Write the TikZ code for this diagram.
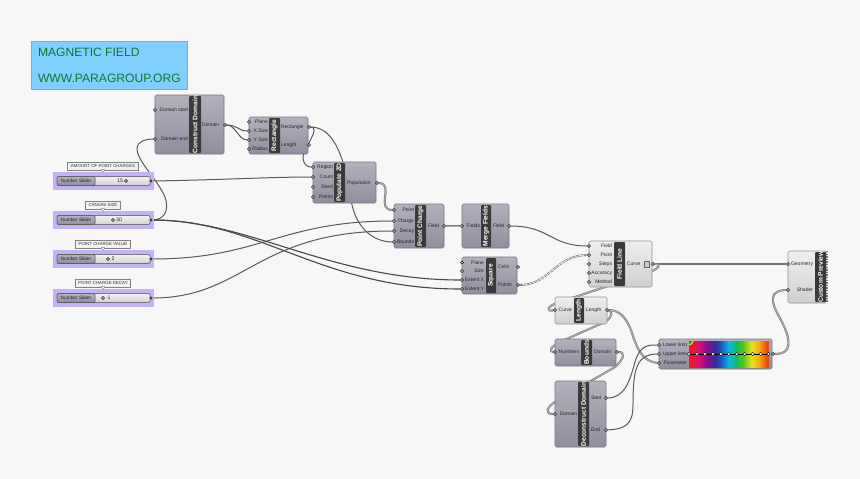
\documentclass[tikz,border=0pt]{standalone}
\usepackage{fontspec}
\setmainfont{Liberation Sans}
\usetikzlibrary{fit,backgrounds,shapes.geometric}
\definecolor{bgc}{HTML}{F7F7F7}
\definecolor{titlec}{HTML}{80CFFF}
\definecolor{titlet}{HTML}{0A7A2A}
\definecolor{groupc}{HTML}{C5B2F5}
\definecolor{edgec}{HTML}{77767F}
\definecolor{barc}{HTML}{3A3A3A}
\definecolor{wirec}{HTML}{5A5A5A}
\definecolor{pt}{HTML}{B2B1BD}
\definecolor{pb}{HTML}{908E9E}
\definecolor{lt}{HTML}{EFEFEF}
\definecolor{lb}{HTML}{D0D0D0}
\pgfdeclarehorizontalshading{rainbowbar}{100bp}{
 rgb(0bp)=(0.93,0.10,0.15); rgb(26.5bp)=(0.93,0.10,0.15);
 rgb(31bp)=(0.88,0.05,0.45); rgb(36bp)=(0.55,0.05,0.55);
 rgb(41bp)=(0.25,0.15,0.60); rgb(45bp)=(0.10,0.35,0.75);
 rgb(50bp)=(0.05,0.72,0.90); rgb(55bp)=(0.05,0.75,0.35);
 rgb(59bp)=(0.35,0.78,0.10); rgb(64bp)=(0.88,0.90,0.10);
 rgb(69bp)=(0.98,0.65,0.05); rgb(73.5bp)=(0.92,0.30,0.05); rgb(100bp)=(0.92,0.30,0.05)}
\tikzset{
 x=1pt,y=-1pt,
 every node/.style={inner sep=0pt,outer sep=0pt},
 purplebody/.style={draw=edgec,line width=.6pt,rounded corners=1.5pt,shade,top color=pt,bottom color=pb},
 lightbody/.style={draw=edgec!80,line width=.6pt,rounded corners=1.5pt,shade,top color=lt,bottom color=lb},
 barbox/.style={fill=barc,rounded corners=1pt},
 bartext/.style={rotate=90,text=white,font=\fontsize{6.6}{7}\selectfont\bfseries},
 inlbl/.style={anchor=east,text=black!85,font=\fontsize{5}{6}\selectfont},
 outlbl/.style={anchor=west,text=black!85,font=\fontsize{5}{6}\selectfont},
 portc/.style={circle,draw=black,fill=white,line width=.45pt,minimum size=3.1pt},
 wire/.style={draw=wirec,line width=1pt},
 darkwire/.style={draw=black!72,line width=1.1pt},
 listwire/.style={draw=black!55,line width=1.8pt},
 liwire/.style={draw=black!52,line width=.55pt,double=black!32,double distance=1pt},
 dashwire/.style={draw=black!62,line width=.6pt,double=white,double distance=.7pt,dash pattern=on 3pt off .8pt},
 groupbox/.style={fill=groupc},
 sliderbox/.style={draw=black!70,line width=.5pt,rounded corners=1pt,shade,top color=white!95!black,bottom color=black!18},
 sliderlbl/.style={draw=black!70,line width=.5pt,rounded corners=1pt,shade,top color=pt,bottom color=pb},
 sliderlt/.style={text=black!85,font=\fontsize{4.8}{6}\selectfont},
 captionbox/.style={draw=black!50,line width=.4pt,fill=white!95!black,text=black!80,font=\fontsize{4.4}{5}\selectfont},
 captip/.style={regular polygon,regular polygon sides=3,shape border rotate=180,draw=black!50,fill=white,line width=.3pt,minimum size=4pt},
 grip/.style={circle,draw=black,fill=white,line width=.35pt,minimum size=3.4pt},
 sliderknob/.style={diamond,draw=black,fill=white,line width=.4pt,minimum size=3pt},
 sliderval/.style={text=black!85,font=\fontsize{5.2}{6}\selectfont},
 titletext/.style={anchor=west,text=titlet,font=\fontsize{12.1}{14}\selectfont},
}
% id, x1,y1,x2,y2, barx1,barx2, title, body style
\newcommand\comp[9]{%
 \node[#9,fit={(#2,#3)(#4,#5)}] (#1) {};
 \node[barbox,fit={(#6,#3+1)(#7,#5-1)}] (#1bar) {};
 \node[bartext] (#1title) at (#1bar.center) {#8};
}
\newcommand\inp[5]{% id,x,y,labelx,text
 \node[portc] (#1) at (#2,#3) {};
 \node[inlbl] (#1lbl) at (#4,#3) {#5};
}
\newcommand\outp[5]{%
 \node[portc] (#1) at (#2,#3) {};
 \node[outlbl] (#1lbl) at (#4,#3) {#5};
}
% id,y,value text, knobx, valx, caption, capwidth
\newcommand\slider[7]{%
 \node[groupbox,fit={(53,#2-9)(154,#2+9)}] (#1group) {};
 \node[sliderbox,fit={(57,#2-4.3)(150,#2+4.3)}] (#1box) {};
 \node[sliderlbl,fit={(57,#2-4.3)(95,#2+4.3)}] (#1lab) {};
 \node[sliderlt] (#1labt) at (76,#2) {Number Slider};
 \node[sliderknob] (#1knob) at (#4,#2) {};
 \node[sliderval] (#1val) at (#5,#2) {#3};
 \node[portc,minimum size=2.6pt] (#1) at (151,#2) {};
 \node[captionbox,minimum width=#7pt,minimum height=7.5pt] (#1cap) at (103,#2-15) {#6};
 \node[captip] (#1tip) at (103,#2-10.4) {};
}
\begin{document}
\begin{tikzpicture}
\useasboundingbox (0,0) rectangle (860,479);
% ---- title
\node[fill=titlec,draw=titlec!85!black,line width=.4pt,fit={(31,41)(187.5,89)}] (title) {};
\node[titletext] (t1) at (38,52.5) {MAGNETIC FIELD};
\node[titletext] (t2) at (38,78) {WWW.PARAGROUP.ORG};
% ---- sliders
\slider{sA}{181}{15}{126}{120}{AMOUNT OF POINT CHARGES}{71}
\slider{sB}{220}{30}{113}{119}{CANVAS SIZE}{35}
\slider{sC}{259}{2}{108}{113}{POINT CHARGE VALUE}{55}
\slider{sD}{298}{1}{103}{109}{POINT CHARGE DECAY}{55}
% ---- components
\comp{cd}{155}{95}{224}{154}{189}{201}{Construct Domain}{purplebody}
\inp{cdS}{155}{110}{188}{Domain start}
\inp{cdE}{155}{139}{188}{Domain end}
\outp{cdO}{225}{125}{202}{Domain}
\comp{re}{249}{117}{308}{154}{269}{280}{Rectangle}{purplebody}
\inp{reP}{249}{122}{268}{Plane}
\inp{reX}{249}{131}{268}{X Size}
\inp{reY}{249}{140}{268}{Y Size}
\inp{reR}{249}{149}{268}{Radius}
\outp{reO}{309}{127}{281}{Rectangle}
\outp{reL}{309}{145}{281}{Length}
\comp{po}{313}{162}{376}{203}{334}{345}{Populate 2D}{purplebody}
\inp{poR}{313}{167}{333}{Region}
\inp{poC}{313}{177}{333}{Count}
\inp{poS}{313}{187}{333}{Seed}
\inp{poP}{313}{197}{333}{Points}
\outp{poO}{377}{183}{347}{Population}
\comp{pc}{394}{204}{444}{248}{415}{426}{Point Charge}{purplebody}
\inp{pcP}{394}{210}{414}{Point}
\inp{pcC}{394}{221}{414}{Charge}
\inp{pcD}{394}{231}{414}{Decay}
\inp{pcB}{394}{242}{414}{Bounds}
\outp{pcO}{444}{226}{428}{Field}
\comp{mf}{462}{204}{509}{248}{481}{491}{Merge Fields}{purplebody}
\inp{mfI}{462}{226}{480}{Fields}
\outp{mfO}{509}{226}{493}{Field}
\comp{sq}{462}{257}{517}{294}{486}{496}{Square}{purplebody}
\inp{sqP}{462}{262.5}{484}{Plane}
\inp{sqS}{462}{271}{484}{Size}
\inp{sqX}{462}{280}{484}{Extent X}
\inp{sqY}{462}{289}{484}{Extent Y}
\outp{sqC}{518}{267}{498}{Cells}
\outp{sqO}{518}{285}{498}{Points}
\comp{fl}{589}{241}{652}{287}{614}{625}{Field Line}{lightbody}
\inp{flF}{589}{246}{612}{Field}
\inp{flP}{589}{255}{612}{Point}
\inp{flS}{589}{264}{612}{Steps}
\inp{flA}{589}{273}{612}{Accuracy}
\inp{flM}{589}{282}{612}{Method}
\outp{flO}{653}{264}{627}{Curve}
\node[draw=black!60,line width=.3pt,fill=black!20,minimum width=5pt,minimum height=5.5pt] (flgrip) at (646.5,264) {};
\comp{le}{555}{297}{607}{324}{574}{584}{Length}{lightbody}
\inp{leI}{555}{310}{572}{Curve}
\outp{leO}{607}{310}{586}{Length}
\comp{bo}{555}{339}{616}{366}{581}{592}{Bounds}{purplebody}
\inp{boI}{555}{352}{579}{Numbers}
\outp{boO}{617}{352}{594}{Domain}
\comp{dd}{555}{381}{606}{447}{578}{589}{Deconstruct Domain}{purplebody}
\inp{ddI}{555}{414}{577}{Domain}
\outp{ddS}{606}{398}{591}{Start}
\outp{ddE}{606}{430}{591}{End}
\node[purplebody,fit={(659,339)(772,369)}] (gr) {};
\node[fit={(689,341)(769,367)},shading=rainbowbar] (grbar) {};
\fill[yellow!85!green] (689,341) -- (693.5,341) arc[start angle=0,end angle=90,radius=4.5] -- cycle;
\fill[green!65!black] (689,341) -- (692,341) arc[start angle=0,end angle=90,radius=3] -- cycle;
\inp{grL}{659}{345}{687}{Lower limit}
\inp{grU}{659}{354}{687}{Upper limit}
\inp{grP}{659}{363}{687}{Parameter}
\node[portc] (grO) at (773,354) {};
\draw[black,line width=.4pt] (689,354) -- (769,354);
\foreach \i in {0,...,10}{\node[grip] (grip\i) at ({689+\i*7.95},354) {};}
\comp{cp}{788}{251}{826}{303}{815}{826}{Custom Preview}{lightbody}
\inp{cpG}{788}{264}{813}{Geometry}
\inp{cpS}{788}{290}{813}{Shader}
\draw[black!55,line width=1.4pt,dash pattern=on 1.3pt off 1.3pt] (cp.north east)++(1,0) -- ([xshift=1pt]cp.south east);
% ---- wires
\begin{pgfonlayer}{background}
\fill[bgc] (0,0) rectangle (860,479);
\draw[wire] (sB) .. controls (163,220) and (170,212) .. (165,197) .. controls (158,180) and (136,160) .. (137,148) .. controls (137,142) and (145,139) .. (cdE);
\draw[wire] (cdO) .. controls (238,125) and (238,131) .. (reX);
\draw[wire] (cdO) .. controls (236,125) and (238,140) .. (reY);
\draw[wire] (reO) .. controls (322,127) and (302,150) .. (303,158) .. controls (304,166) and (308,167) .. (poR);
\draw[wire] (reO) .. controls (335,127) and (345,160) .. (351,200) .. controls (356,230) and (375,242) .. (pcB);
\draw[wire] (sA) .. controls (220,180) and (270,177) .. (poC);
\draw[liwire] (poO) .. controls (395,183) and (375,210) .. (pcP);
\draw[wire] (sC) .. controls (260,259) and (280,221) .. (pcC);
\draw[wire] (sD) .. controls (245,298) and (255,231) .. (pcD);
\draw[darkwire] (sB) .. controls (250,220) and (330,280) .. (sqX);
\draw[darkwire] (sB) .. controls (260,220) and (320,289) .. (sqY);
\draw[liwire] (pcO) -- (mfI);
\draw[wire] (mfO) .. controls (550,226) and (550,246) .. (flF);
\draw[dashwire] (sqO) .. controls (550,285) and (555,255) .. (flP);
\draw[listwire] (flO) -- (cpG);
\draw[liwire] (flO) .. controls (661,264) and (660,268) .. (650,272) -- (560,302) .. controls (546,306) and (546,312) .. (leI);
\draw[liwire] (leO) .. controls (613,311) and (612,318) .. (605,322) -- (562,341) .. controls (549,347) and (549,352) .. (boI);
\draw[liwire] (leO) .. controls (620,310) and (626,318) .. (631,330) .. controls (636,345) and (640,361) .. (grP);
\draw[liwire] (boO) .. controls (625,352) and (625,358) .. (615,367) -- (558,400) .. controls (546,407) and (544,414) .. (ddI);
\draw[wire] (ddS) .. controls (625,398) and (630,380) .. (635,362) .. controls (640,345) and (648,345) .. (grL);
\draw[wire] (ddE) .. controls (625,429) and (633,425) .. (633,405) .. controls (633,370) and (636,354) .. (grU);
\draw[liwire] (grO) .. controls (785,354) and (790,350) .. (788,338) .. controls (784,320) and (772,310) .. (773,298) .. controls (773,292) and (780,290) .. (cpS);
\end{pgfonlayer}
\end{tikzpicture}
\end{document}
